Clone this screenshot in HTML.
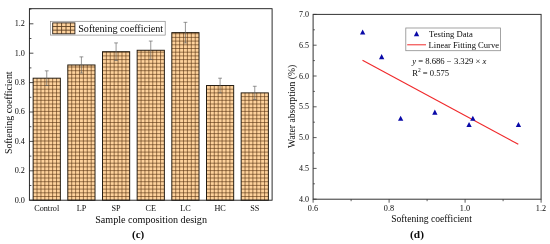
<!DOCTYPE html><html><head><meta charset="utf-8"><title>Figure</title><style>html,body{margin:0;padding:0;background:#fff}svg{display:block}text{font-family:"Liberation Serif","DejaVu Serif",serif;fill:#0a0a0a}</style></head><body>
<svg width="550" height="244" viewBox="0 0 550 244">
<rect width="550" height="244" fill="#fff"/>
<rect x="33.14" y="78.19" width="27.2" height="122.01" fill="#fed29c"/>
<path d="M37.04 78.19V200.2M40.94 78.19V200.2M44.84 78.19V200.2M48.74 78.19V200.2M52.64 78.19V200.2M56.54 78.19V200.2M33.14 196.50H60.34M33.14 192.80H60.34M33.14 189.10H60.34M33.14 185.40H60.34M33.14 181.70H60.34M33.14 178.00H60.34M33.14 174.30H60.34M33.14 170.60H60.34M33.14 166.90H60.34M33.14 163.20H60.34M33.14 159.50H60.34M33.14 155.80H60.34M33.14 152.10H60.34M33.14 148.40H60.34M33.14 144.70H60.34M33.14 141.00H60.34M33.14 137.30H60.34M33.14 133.60H60.34M33.14 129.90H60.34M33.14 126.20H60.34M33.14 122.50H60.34M33.14 118.80H60.34M33.14 115.10H60.34M33.14 111.40H60.34M33.14 107.70H60.34M33.14 104.00H60.34M33.14 100.30H60.34M33.14 96.60H60.34M33.14 92.90H60.34M33.14 89.20H60.34M33.14 85.50H60.34M33.14 81.80H60.34" stroke="#56310f" stroke-width="0.6" fill="none"/>
<rect x="33.14" y="78.19" width="27.2" height="122.01" fill="none" stroke="#1c140a" stroke-width="0.95"/>
<path d="M46.74 70.84V85.54M44.84 70.84h3.8M44.84 85.54h3.8" stroke="#606060" stroke-width="0.65" fill="none"/>
<rect x="67.81" y="64.96" width="27.2" height="135.24" fill="#fed29c"/>
<path d="M71.71 64.96V200.2M75.61 64.96V200.2M79.51 64.96V200.2M83.41 64.96V200.2M87.31 64.96V200.2M91.21 64.96V200.2M67.81 196.50H95.01M67.81 192.80H95.01M67.81 189.10H95.01M67.81 185.40H95.01M67.81 181.70H95.01M67.81 178.00H95.01M67.81 174.30H95.01M67.81 170.60H95.01M67.81 166.90H95.01M67.81 163.20H95.01M67.81 159.50H95.01M67.81 155.80H95.01M67.81 152.10H95.01M67.81 148.40H95.01M67.81 144.70H95.01M67.81 141.00H95.01M67.81 137.30H95.01M67.81 133.60H95.01M67.81 129.90H95.01M67.81 126.20H95.01M67.81 122.50H95.01M67.81 118.80H95.01M67.81 115.10H95.01M67.81 111.40H95.01M67.81 107.70H95.01M67.81 104.00H95.01M67.81 100.30H95.01M67.81 96.60H95.01M67.81 92.90H95.01M67.81 89.20H95.01M67.81 85.50H95.01M67.81 81.80H95.01M67.81 78.10H95.01M67.81 74.40H95.01M67.81 70.70H95.01M67.81 67.00H95.01" stroke="#56310f" stroke-width="0.6" fill="none"/>
<rect x="67.81" y="64.96" width="27.2" height="135.24" fill="none" stroke="#1c140a" stroke-width="0.95"/>
<path d="M81.41 56.87V73.04M79.51 56.87h3.8M79.51 73.04h3.8" stroke="#606060" stroke-width="0.65" fill="none"/>
<rect x="102.48" y="51.73" width="27.2" height="148.47" fill="#fed29c"/>
<path d="M106.38 51.73V200.2M110.28 51.73V200.2M114.18 51.73V200.2M118.08 51.73V200.2M121.98 51.73V200.2M125.88 51.73V200.2M102.48 196.50H129.68M102.48 192.80H129.68M102.48 189.10H129.68M102.48 185.40H129.68M102.48 181.70H129.68M102.48 178.00H129.68M102.48 174.30H129.68M102.48 170.60H129.68M102.48 166.90H129.68M102.48 163.20H129.68M102.48 159.50H129.68M102.48 155.80H129.68M102.48 152.10H129.68M102.48 148.40H129.68M102.48 144.70H129.68M102.48 141.00H129.68M102.48 137.30H129.68M102.48 133.60H129.68M102.48 129.90H129.68M102.48 126.20H129.68M102.48 122.50H129.68M102.48 118.80H129.68M102.48 115.10H129.68M102.48 111.40H129.68M102.48 107.70H129.68M102.48 104.00H129.68M102.48 100.30H129.68M102.48 96.60H129.68M102.48 92.90H129.68M102.48 89.20H129.68M102.48 85.50H129.68M102.48 81.80H129.68M102.48 78.10H129.68M102.48 74.40H129.68M102.48 70.70H129.68M102.48 67.00H129.68M102.48 63.30H129.68M102.48 59.60H129.68M102.48 55.90H129.68M102.48 52.20H129.68" stroke="#56310f" stroke-width="0.6" fill="none"/>
<rect x="102.48" y="51.73" width="27.2" height="148.47" fill="none" stroke="#1c140a" stroke-width="0.95"/>
<path d="M116.08 42.91V60.55M114.18 42.91h3.8M114.18 60.55h3.8" stroke="#606060" stroke-width="0.65" fill="none"/>
<rect x="137.15" y="50.26" width="27.2" height="149.94" fill="#fed29c"/>
<path d="M141.05 50.26V200.2M144.95 50.26V200.2M148.85 50.26V200.2M152.75 50.26V200.2M156.65 50.26V200.2M160.55 50.26V200.2M137.15 196.50H164.35M137.15 192.80H164.35M137.15 189.10H164.35M137.15 185.40H164.35M137.15 181.70H164.35M137.15 178.00H164.35M137.15 174.30H164.35M137.15 170.60H164.35M137.15 166.90H164.35M137.15 163.20H164.35M137.15 159.50H164.35M137.15 155.80H164.35M137.15 152.10H164.35M137.15 148.40H164.35M137.15 144.70H164.35M137.15 141.00H164.35M137.15 137.30H164.35M137.15 133.60H164.35M137.15 129.90H164.35M137.15 126.20H164.35M137.15 122.50H164.35M137.15 118.80H164.35M137.15 115.10H164.35M137.15 111.40H164.35M137.15 107.70H164.35M137.15 104.00H164.35M137.15 100.30H164.35M137.15 96.60H164.35M137.15 92.90H164.35M137.15 89.20H164.35M137.15 85.50H164.35M137.15 81.80H164.35M137.15 78.10H164.35M137.15 74.40H164.35M137.15 70.70H164.35M137.15 67.00H164.35M137.15 63.30H164.35M137.15 59.60H164.35M137.15 55.90H164.35M137.15 52.20H164.35" stroke="#56310f" stroke-width="0.6" fill="none"/>
<rect x="137.15" y="50.26" width="27.2" height="149.94" fill="none" stroke="#1c140a" stroke-width="0.95"/>
<path d="M150.75 41.07V59.45M148.85 41.07h3.8M148.85 59.45h3.8" stroke="#606060" stroke-width="0.65" fill="none"/>
<rect x="171.82" y="32.62" width="27.2" height="167.58" fill="#fed29c"/>
<path d="M175.72 32.62V200.2M179.62 32.62V200.2M183.52 32.62V200.2M187.42 32.62V200.2M191.32 32.62V200.2M195.22 32.62V200.2M171.82 196.50H199.02M171.82 192.80H199.02M171.82 189.10H199.02M171.82 185.40H199.02M171.82 181.70H199.02M171.82 178.00H199.02M171.82 174.30H199.02M171.82 170.60H199.02M171.82 166.90H199.02M171.82 163.20H199.02M171.82 159.50H199.02M171.82 155.80H199.02M171.82 152.10H199.02M171.82 148.40H199.02M171.82 144.70H199.02M171.82 141.00H199.02M171.82 137.30H199.02M171.82 133.60H199.02M171.82 129.90H199.02M171.82 126.20H199.02M171.82 122.50H199.02M171.82 118.80H199.02M171.82 115.10H199.02M171.82 111.40H199.02M171.82 107.70H199.02M171.82 104.00H199.02M171.82 100.30H199.02M171.82 96.60H199.02M171.82 92.90H199.02M171.82 89.20H199.02M171.82 85.50H199.02M171.82 81.80H199.02M171.82 78.10H199.02M171.82 74.40H199.02M171.82 70.70H199.02M171.82 67.00H199.02M171.82 63.30H199.02M171.82 59.60H199.02M171.82 55.90H199.02M171.82 52.20H199.02M171.82 48.50H199.02M171.82 44.80H199.02M171.82 41.10H199.02M171.82 37.40H199.02M171.82 33.70H199.02" stroke="#56310f" stroke-width="0.6" fill="none"/>
<rect x="171.82" y="32.62" width="27.2" height="167.58" fill="none" stroke="#1c140a" stroke-width="0.95"/>
<path d="M185.42 22.33V42.91M183.52 22.33h3.8M183.52 42.91h3.8" stroke="#606060" stroke-width="0.65" fill="none"/>
<rect x="206.49" y="85.54" width="27.2" height="114.66" fill="#fed29c"/>
<path d="M210.39 85.54V200.2M214.29 85.54V200.2M218.19 85.54V200.2M222.09 85.54V200.2M225.99 85.54V200.2M229.89 85.54V200.2M206.49 196.50H233.69M206.49 192.80H233.69M206.49 189.10H233.69M206.49 185.40H233.69M206.49 181.70H233.69M206.49 178.00H233.69M206.49 174.30H233.69M206.49 170.60H233.69M206.49 166.90H233.69M206.49 163.20H233.69M206.49 159.50H233.69M206.49 155.80H233.69M206.49 152.10H233.69M206.49 148.40H233.69M206.49 144.70H233.69M206.49 141.00H233.69M206.49 137.30H233.69M206.49 133.60H233.69M206.49 129.90H233.69M206.49 126.20H233.69M206.49 122.50H233.69M206.49 118.80H233.69M206.49 115.10H233.69M206.49 111.40H233.69M206.49 107.70H233.69M206.49 104.00H233.69M206.49 100.30H233.69M206.49 96.60H233.69M206.49 92.90H233.69M206.49 89.20H233.69" stroke="#56310f" stroke-width="0.6" fill="none"/>
<rect x="206.49" y="85.54" width="27.2" height="114.66" fill="none" stroke="#1c140a" stroke-width="0.95"/>
<path d="M220.09 78.19V92.89M218.19 78.19h3.8M218.19 92.89h3.8" stroke="#606060" stroke-width="0.65" fill="none"/>
<rect x="241.16" y="92.89" width="27.2" height="107.31" fill="#fed29c"/>
<path d="M245.06 92.89V200.2M248.96 92.89V200.2M252.86 92.89V200.2M256.76 92.89V200.2M260.66 92.89V200.2M264.56 92.89V200.2M241.16 196.50H268.36M241.16 192.80H268.36M241.16 189.10H268.36M241.16 185.40H268.36M241.16 181.70H268.36M241.16 178.00H268.36M241.16 174.30H268.36M241.16 170.60H268.36M241.16 166.90H268.36M241.16 163.20H268.36M241.16 159.50H268.36M241.16 155.80H268.36M241.16 152.10H268.36M241.16 148.40H268.36M241.16 144.70H268.36M241.16 141.00H268.36M241.16 137.30H268.36M241.16 133.60H268.36M241.16 129.90H268.36M241.16 126.20H268.36M241.16 122.50H268.36M241.16 118.80H268.36M241.16 115.10H268.36M241.16 111.40H268.36M241.16 107.70H268.36M241.16 104.00H268.36M241.16 100.30H268.36M241.16 96.60H268.36" stroke="#56310f" stroke-width="0.6" fill="none"/>
<rect x="241.16" y="92.89" width="27.2" height="107.31" fill="none" stroke="#1c140a" stroke-width="0.95"/>
<path d="M254.76 86.27V99.50M252.86 86.27h3.8M252.86 99.50h3.8" stroke="#606060" stroke-width="0.65" fill="none"/>
<rect x="29.4" y="8.7" width="242.70" height="191.50" fill="none" stroke="#161616" stroke-width="0.9"/>
<path d="M29.4 200.20h4M29.4 185.50h2M29.4 170.80h4M29.4 156.10h2M29.4 141.40h4M29.4 126.70h2M29.4 112.00h4M29.4 97.30h2M29.4 82.60h4M29.4 67.90h2M29.4 53.20h4M29.4 38.50h2M29.4 23.80h4M29.4 9.10h2" stroke="#222" stroke-width="0.8" fill="none"/>
<text x="24.9" y="202.50" font-size="8.2" text-anchor="end">0.0</text>
<text x="24.9" y="173.10" font-size="8.2" text-anchor="end">0.2</text>
<text x="24.9" y="143.70" font-size="8.2" text-anchor="end">0.4</text>
<text x="24.9" y="114.30" font-size="8.2" text-anchor="end">0.6</text>
<text x="24.9" y="84.90" font-size="8.2" text-anchor="end">0.8</text>
<text x="24.9" y="55.50" font-size="8.2" text-anchor="end">1.0</text>
<text x="24.9" y="26.10" font-size="8.2" text-anchor="end">1.2</text>
<text x="46.74" y="211.1" font-size="8.2" text-anchor="middle">Control</text>
<text x="81.41" y="211.1" font-size="8.2" text-anchor="middle">LP</text>
<text x="116.08" y="211.1" font-size="8.2" text-anchor="middle">SP</text>
<text x="150.75" y="211.1" font-size="8.2" text-anchor="middle">CE</text>
<text x="185.42" y="211.1" font-size="8.2" text-anchor="middle">LC</text>
<text x="220.09" y="211.1" font-size="8.2" text-anchor="middle">HC</text>
<text x="254.76" y="211.1" font-size="8.2" text-anchor="middle">SS</text>
<text x="151.1" y="223.4" font-size="10" text-anchor="middle" textLength="111.8" lengthAdjust="spacingAndGlyphs">Sample composition design</text>
<text transform="translate(12 112.75) rotate(-90)" font-size="10" text-anchor="middle" textLength="82.7" lengthAdjust="spacingAndGlyphs">Softening coefficient</text>
<text x="138.2" y="238" font-size="11" font-weight="bold" text-anchor="middle">(c)</text>
<rect x="50.4" y="21.3" width="114.8" height="13.8" fill="#fff" stroke="#888" stroke-width="0.7"/>
<rect x="52.7" y="22.9" width="22.2" height="10.9" fill="#fed29c"/>
<path d="M57.14 22.9v10.9M61.58 22.9v10.9M66.02 22.9v10.9M70.46 22.9v10.9M52.7 26.53h22.2M52.7 30.17h22.2" stroke="#5e3f22" stroke-width="0.9" fill="none"/>
<rect x="52.7" y="22.9" width="22.2" height="10.9" fill="none" stroke="#2a2018" stroke-width="0.9"/>
<text x="78.2" y="31.6" font-size="10.3" textLength="85" lengthAdjust="spacingAndGlyphs">Softening coefficient</text>
<rect x="313.1" y="14.4" width="228.00" height="184.80" fill="none" stroke="#333" stroke-width="1"/>
<path d="M313.1 199.20h3.5M313.1 183.80h1.8M313.1 168.40h3.5M313.1 153.00h1.8M313.1 137.60h3.5M313.1 122.20h1.8M313.1 106.80h3.5M313.1 91.40h1.8M313.1 76.00h3.5M313.1 60.60h1.8M313.1 45.20h3.5M313.1 29.80h1.8M313.1 14.40h3.5M313.10 199.2v3.5M351.10 199.2v2M389.10 199.2v3.5M427.10 199.2v2M465.10 199.2v3.5M503.10 199.2v2M541.10 199.2v3.5" stroke="#333" stroke-width="0.8" fill="none"/>
<text x="309" y="201.80" font-size="8" text-anchor="end">4.0</text>
<text x="309" y="171.00" font-size="8" text-anchor="end">4.5</text>
<text x="309" y="140.20" font-size="8" text-anchor="end">5.0</text>
<text x="309" y="109.40" font-size="8" text-anchor="end">5.5</text>
<text x="309" y="78.60" font-size="8" text-anchor="end">6.0</text>
<text x="309" y="47.80" font-size="8" text-anchor="end">6.5</text>
<text x="309" y="17.00" font-size="8" text-anchor="end">7.0</text>
<text x="312.90" y="211.4" font-size="8.2" text-anchor="middle">0.6</text>
<text x="388.90" y="211.4" font-size="8.2" text-anchor="middle">0.8</text>
<text x="464.90" y="211.4" font-size="8.2" text-anchor="middle">1.0</text>
<text x="540.90" y="211.4" font-size="8.2" text-anchor="middle">1.2</text>
<path d="M362.50 60.24L518.30 144.32" stroke="#f0282a" stroke-width="1.1" fill="none"/>
<path d="M362.65 29.48L365.30 34.58H360.00ZM381.65 54.12L384.30 59.22H379.00ZM400.65 115.72L403.30 120.82H398.00ZM434.85 109.56L437.50 114.66H432.20ZM469.05 121.88L471.70 126.98H466.40ZM472.85 115.72L475.50 120.82H470.20ZM518.45 121.88L521.10 126.98H515.80Z" fill="#0a0aa8"/>
<rect x="405.8" y="28" width="94.8" height="22.7" fill="#fff" stroke="#8c8c8c" stroke-width="0.8"/>
<path d="M416.55 31.10L419.20 36.20H413.90Z" fill="#0a0aa8"/>
<path d="M407.2 44.8H426" stroke="#f02c2c" stroke-width="1"/>
<text x="429.1" y="36.9" font-size="8.5" textLength="43.7" lengthAdjust="spacingAndGlyphs">Testing Data</text>
<text x="428.6" y="47.8" font-size="8.5" textLength="70.4" lengthAdjust="spacingAndGlyphs">Linear Fitting Curve</text>
<text x="412.2" y="63.7" font-size="8.5" textLength="74.2" lengthAdjust="spacingAndGlyphs"><tspan font-style="italic">y</tspan> = 8.686 − 3.329 × <tspan font-style="italic">x</tspan></text>
<text x="412.2" y="75.6" font-size="8.6">R<tspan font-size="5.5" dy="-3.2">2</tspan><tspan dy="3.2"> = 0.575</tspan></text>
<text x="431.5" y="221.9" font-size="10" text-anchor="middle" textLength="80.7" lengthAdjust="spacingAndGlyphs">Softening coefficient</text>
<text transform="translate(295.2 106.35) rotate(-90)" font-size="10" text-anchor="middle" textLength="83.1" lengthAdjust="spacingAndGlyphs">Water absorption (%)</text>
<text x="417" y="237.8" font-size="11.3" font-weight="bold" text-anchor="middle">(d)</text>
</svg></body></html>
